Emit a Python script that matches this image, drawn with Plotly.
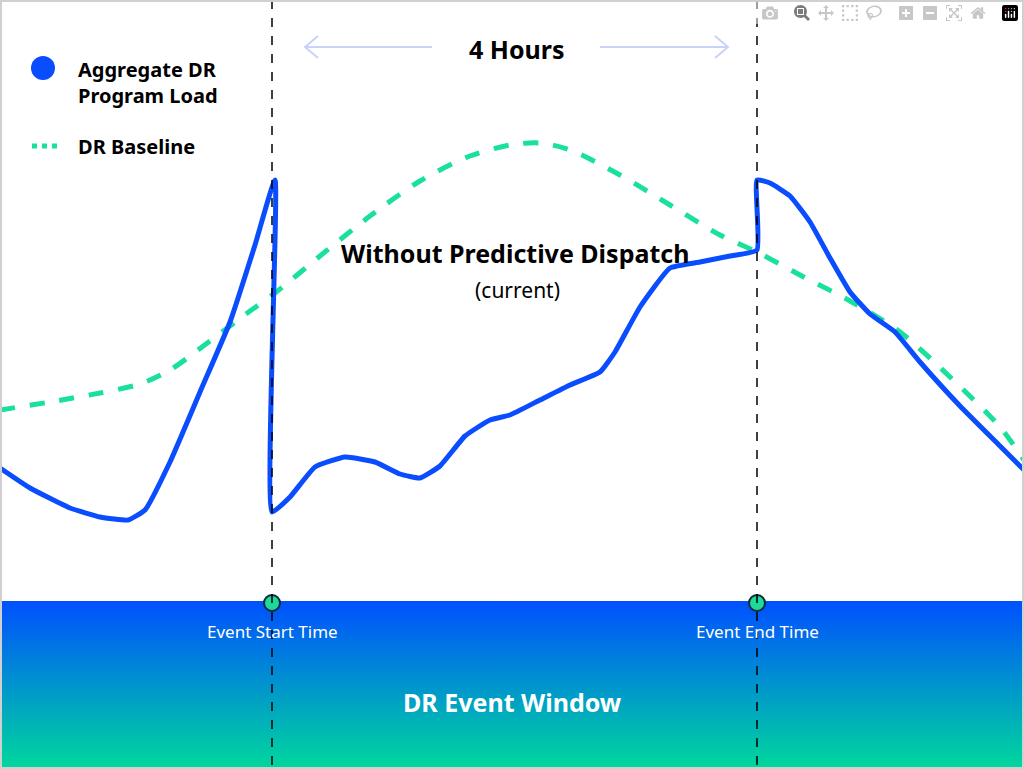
import plotly.graph_objects as go

# Data (chart units: x = time position, y = plotted level; y axis drawn top-down)
load_x = [0, 30, 70, 100, 128, 145, 170, 200, 230, 255, 275, 272, 290, 315, 345, 375, 400, 420, 440, 465, 490, 510, 540, 570, 600, 615, 640, 670, 700, 730, 757, 757, 770, 790, 810, 830, 850, 870, 895, 920, 960, 1000, 1024]
load_y = [468, 488, 508, 517, 520, 510, 462, 392, 322, 245, 180, 512, 497, 467, 457, 462, 474, 478, 466, 436, 420, 415, 400, 385, 372, 352, 307, 268, 262, 256, 250, 180, 183, 196, 222, 258, 292, 314, 332, 362, 406, 446, 470]
base_x = [0, 50, 100, 140, 170, 210, 250, 275, 320, 370, 420, 470, 510, 540, 570, 620, 670, 720, 757, 800, 850, 900, 950, 1000, 1024]
base_y = [410, 402, 393, 384, 370, 341, 311, 293, 256, 216, 181, 156, 145, 143, 150, 175, 205, 235, 252, 275, 301, 332, 377, 427, 460]
event_x = [272, 757]
event_labels = ["Event Start Time", "Event End Time"]

F = "Noto Sans"
fig = go.Figure()

fig.add_trace(go.Scatter(x=[0, 1024, 1024, 0, 0], y=[601, 601, 769, 769, 601], fill="toself",
                         mode="lines", line=dict(width=0),
                         fillgradient=dict(type="vertical", colorscale=[[0, "#00d89c"], [1, "#0050ff"]]),
                         hoverinfo="skip", showlegend=False))

fig.add_trace(go.Scatter(x=base_x, y=base_y, mode="lines", line=dict(color="#19e09a", width=5, dash="dash", shape="spline", smoothing=0.8), showlegend=False))
fig.add_trace(go.Scatter(x=load_x, y=load_y, mode="lines", line=dict(color="#0a4dff", width=5, shape="spline", smoothing=0.4), showlegend=False))

for ex in event_x:
    fig.add_shape(type="line", x0=ex, x1=ex, y0=0, y1=769, line=dict(color="black", width=1.5, dash="dash"))

fig.add_trace(go.Scatter(x=event_x, y=[603, 603], mode="markers",
                         marker=dict(size=16, color="#1fd99b", line=dict(color="#0b2a3a", width=2)), showlegend=False))
for ex, lab in zip(event_x, event_labels):
    fig.add_annotation(x=ex, y=631, text=lab, showarrow=False, font=dict(family=F, size=17, color="white"))

fig.add_annotation(x=512, y=702, text="<b>DR Event Window</b>", showarrow=False, font=dict(family=F, size=25, color="white"))
fig.add_annotation(x=515, y=253, text="<b>Without Predictive Dispatch</b>", showarrow=False, font=dict(family=F, size=25, color="black"))
fig.add_annotation(x=517, y=290, text="(current)", showarrow=False, font=dict(family=F, size=21, color="black"))
fig.add_annotation(x=517, y=49, text="<b>4 Hours</b>", showarrow=False, font=dict(family=F, size=25, color="black"))

# double-headed "4 Hours" arrow
ac = dict(color="#c8d2fb", width=2)
fig.add_shape(type="line", x0=305, x1=432, y0=47, y1=47, line=ac)
fig.add_shape(type="line", x0=600, x1=728, y0=47, y1=47, line=ac)
fig.add_shape(type="path", path="M 318 36 L 305 47 L 318 58", line=ac)
fig.add_shape(type="path", path="M 715 36 L 728 47 L 715 58", line=ac)

# legend
fig.add_trace(go.Scatter(x=[43], y=[68], mode="markers", marker=dict(size=24, color="#0a4dff"), showlegend=False))
fig.add_trace(go.Scatter(x=[32, 62], y=[146, 146], mode="lines", line=dict(color="#19e09a", width=5, dash="dot"), showlegend=False))
fig.add_annotation(x=76, y=82, text="<b>Aggregate DR<br>Program Load</b>", showarrow=False, xanchor="left",
                   align="left", font=dict(family=F, size=20, color="black"))
fig.add_annotation(x=76, y=146, text="<b>DR Baseline</b>", showarrow=False, xanchor="left", font=dict(family=F, size=20, color="black"))

fig.add_shape(type="rect", x0=1, x1=1023, y0=1, y1=768, line=dict(color="#d0d0d0", width=2))

fig.update_layout(width=1024, height=769, margin=dict(l=0, r=0, t=0, b=0),
                  plot_bgcolor="white", paper_bgcolor="white",
                  xaxis=dict(range=[0, 1024], visible=False),
                  yaxis=dict(range=[769, 0], visible=False))
fig.write_html("out.html", post_script="document.body.style.margin='0';document.body.style.overflow='hidden';")
